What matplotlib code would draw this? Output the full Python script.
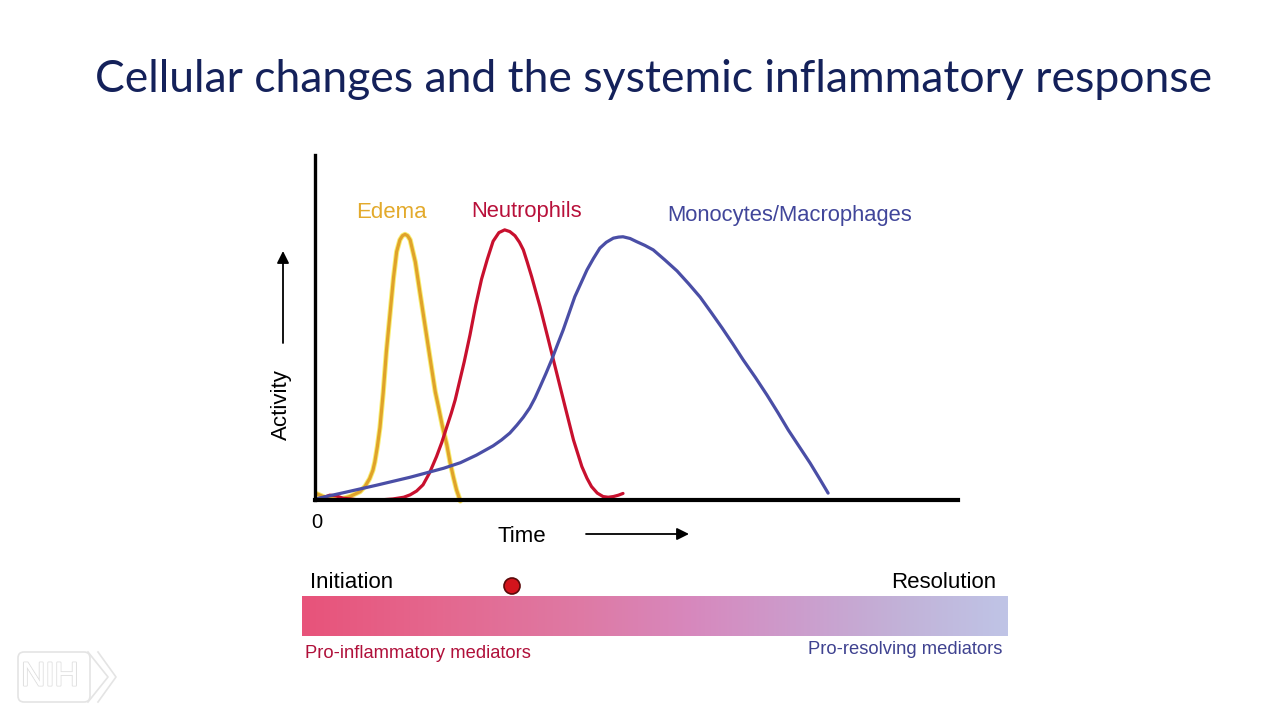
import numpy as np
import matplotlib
matplotlib.use("Agg")
import matplotlib.pyplot as plt
from matplotlib.colors import LinearSegmentedColormap
from matplotlib.patches import FancyBboxPatch, Circle
import matplotlib.patheffects as pe

# ---------------- data ----------------
title = "Cellular changes and the systemic inflammatory response"

edema_t = [0.3, 1.5, 2.8, 3.9, 5.4, 7.0, 7.8, 8.5, 9.0, 9.3, 9.7, 10.1, 10.6, 11.1, 11.7,
           12.2, 12.7, 13.2, 13.6, 14.0, 14.4, 14.8, 15.6, 16.3, 17.1, 17.9, 18.7,
           19.2, 19.8, 20.5, 21.0, 21.5, 22.0, 22.6]
edema_a = [1.8, 0.8, 0.3, 0.2, 1.0, 2.4, 4.0, 6.2, 8.6, 11.0, 15.5, 21.0, 31.0, 43.0,
           54.6, 64.3, 72.0, 75.4, 76.6, 77.0, 76.6, 75.4, 69.0, 60.4, 50.7, 41.0,
           31.4, 27.0, 21.5, 16.0, 11.0, 6.8, 3.0, -0.3]

neut_t = [1.0, 2.3, 3.3, 4.4, 7.0, 10.0, 12.1, 13.8, 14.8, 15.8, 16.8, 17.8, 18.9, 19.7,
          20.5, 21.2, 21.8, 22.5, 23.2, 24.1, 25.0, 25.9, 26.8, 27.7, 28.6, 29.5, 30.3,
          31.1, 31.8, 32.4, 33.0, 33.7, 35.0, 36.3, 37.6, 38.9, 40.2, 41.5, 42.3,
          43.0, 43.9, 44.8, 45.6, 46.4, 47.2, 47.9]
neut_a = [0.5, 1.4, 1.2, 0.5, 0.0, 0.0, 0.3, 0.8, 1.5, 2.6, 4.4, 7.8, 12.6, 16.6,
          21.2, 25.2, 29.0, 34.5, 40.0, 47.8, 56.5, 64.0, 69.8, 75.0, 77.5, 78.3, 77.8,
          76.6, 74.7, 72.5, 69.0, 64.7, 56.0, 46.4, 36.7, 27.0, 17.4, 9.7, 6.3,
          3.9, 2.0, 1.0, 0.8, 1.0, 1.4, 1.9]

mono_t = [0.5, 4.4, 9.6, 14.8, 17.4, 20.0, 22.6, 25.1, 27.7, 29.0, 30.3, 31.4, 32.4,
          33.4, 34.2, 35.0, 35.9, 36.8, 37.7, 38.6, 39.5, 40.4, 41.4, 42.3, 43.3, 44.3,
          45.3, 46.4, 47.2, 47.9, 49.0, 50.0, 51.3, 52.6, 54.4, 56.3, 58.1, 59.9, 61.6,
          63.3, 65.0, 66.6, 68.5, 70.3, 72.0, 73.6, 75.3, 77.0, 78.4, 79.8]
mono_a = [0.5, 2.1, 4.3, 6.6, 7.9, 9.2, 10.8, 13.0, 15.7, 17.4, 19.4, 21.7, 24.0,
          26.7, 29.5, 32.8, 36.6, 40.6, 45.0, 49.3, 54.1, 58.9, 63.0, 66.7, 70.0, 73.0,
          74.7, 75.9, 76.2, 76.3, 75.8, 74.9, 73.8, 72.5, 69.6, 66.4, 62.7, 58.8, 54.4,
          49.9, 45.2, 40.6, 35.5, 30.4, 25.3, 20.3, 15.5, 10.7, 6.4, 2.0]

series_labels = ["Edema", "Neutrophils", "Monocytes/Macrophages"]
bar_left_top = "Initiation"
bar_right_top = "Resolution"
bar_left_bottom = "Pro-inflammatory mediators"
bar_right_bottom = "Pro-resolving mediators"
gradient_stops = [0.0, 0.2, 0.4, 0.55, 0.7, 0.85, 1.0]
gradient_colors = ["#e8537a", "#e4688f", "#de7aa5", "#d788bd", "#cc9ccc", "#c2b2d8", "#bfc4e6"]

# ---------------- figure ----------------
W, H = 1280, 720
fig = plt.figure(figsize=(W / 100, H / 100), dpi=100)
fig.patch.set_facecolor("white")

def fx(px):
    return px / W

def fy(py):
    return 1 - py / H

# overlay axes in pixel coordinates for texts / decorations
ov = fig.add_axes([0, 0, 1, 1])
ov.set_xlim(0, W)
ov.set_ylim(H, 0)
ov.axis("off")

# main chart axes
ax = fig.add_axes([fx(315), fy(500), (958 - 315) / W, (500 - 155) / H])
ax.set_xlim(0, 100)
ax.set_ylim(0, 100)
ax.patch.set_alpha(0)
for s in ["top", "right"]:
    ax.spines[s].set_visible(False)
ax.spines["left"].set_linewidth(2.4)
ax.spines["bottom"].set_linewidth(3.0)
ax.spines["left"].set_zorder(5)
ax.spines["bottom"].set_zorder(5)
ax.set_xticks([])
ax.set_yticks([])

lw = 2.3
kw = dict(solid_capstyle="round", solid_joinstyle="round", clip_on=False)
ax.plot(edema_t, edema_a, color="#f7ec5a", lw=lw + 1.4, alpha=0.85, zorder=2, **kw)
ax.plot(edema_t, edema_a, color="#e0a22a", lw=lw, zorder=3, **kw)
ax.plot(neut_t, neut_a, color="#c8102e", lw=lw, zorder=3, **kw)
ax.plot(mono_t, mono_a, color="#4a4ea6", lw=lw, zorder=4, **kw)

lab_font = "Liberation Sans"
ov.text(391, 212, series_labels[0], color="#e3aa2c", fontsize=16, family=lab_font,
        ha="center", va="center")
ov.text(527, 211, series_labels[1], color="#b8103a", fontsize=15.8, family=lab_font,
        ha="center", va="center")
ov.text(790, 215, series_labels[2], color="#41469a", fontsize=15.8, family=lab_font,
        ha="center", va="center")

# axis labels / arrows
ov.text(281, 405, "Activity", rotation=90, fontsize=16, family=lab_font,
        ha="center", va="center", color="black")
ov.annotate("", xy=(283, 251), xytext=(283, 343),
            arrowprops=dict(arrowstyle="-|>", color="black", lw=1.3,
                            mutation_scale=18, shrinkA=0, shrinkB=0))
ov.text(317, 523, "0", fontsize=14.5, family=lab_font, ha="center", va="center")
ov.text(522, 536, "Time", fontsize=16, family=lab_font, ha="center", va="center")
ov.annotate("", xy=(689, 534), xytext=(586, 534),
            arrowprops=dict(arrowstyle="-|>", color="black", lw=1.3,
                            mutation_scale=18, shrinkA=0, shrinkB=0))

# title
ov.text(654, 79, title, fontsize=32, family="Lato", color="#14215a",
        ha="center", va="center")

# gradient bar
cmap = LinearSegmentedColormap.from_list("grad", list(zip(gradient_stops, gradient_colors)))
gax = fig.add_axes([fx(302), fy(636), (1008 - 302) / W, (636 - 596) / H])
gax.imshow(np.linspace(0, 1, 512)[None, :], aspect="auto", cmap=cmap,
           extent=[0, 1, 0, 1])
gax.axis("off")

ov.text(310, 583, bar_left_top, fontsize=16, family=lab_font, ha="left", va="center")
ov.text(996, 583, bar_right_top, fontsize=16, family=lab_font, ha="right", va="center")
ov.text(305, 653, bar_left_bottom, fontsize=13.2, family=lab_font, color="#b0103a",
        ha="left", va="center")
ov.text(1002, 650, bar_right_bottom, fontsize=13.2, family=lab_font, color="#3f4290",
        ha="right", va="center")

# red dot marker
ov.add_patch(Circle((512, 586), 8, facecolor="#d3141c", edgecolor="#5a0a0a", lw=1.2,
                    zorder=6))

# faint NIH logo
ov.add_patch(FancyBboxPatch((18, 652), 72, 50, boxstyle="round,pad=0,rounding_size=6",
                            facecolor="none", edgecolor="#e4e4e4", lw=1.2))
ov.plot([88, 108, 88], [652, 677, 702], color="#e4e4e4", lw=1.2)
ov.plot([98, 116, 98], [652, 677, 702], color="#e4e4e4", lw=1.2)
t = ov.text(50, 677, "NIH", fontsize=24, family="Liberation Sans", color="white",
            ha="center", va="center")
t.set_path_effects([pe.withStroke(linewidth=1.5, foreground="#e0e0e0"), pe.Normal()])

fig.savefig("out.png", dpi=100, facecolor="white")
